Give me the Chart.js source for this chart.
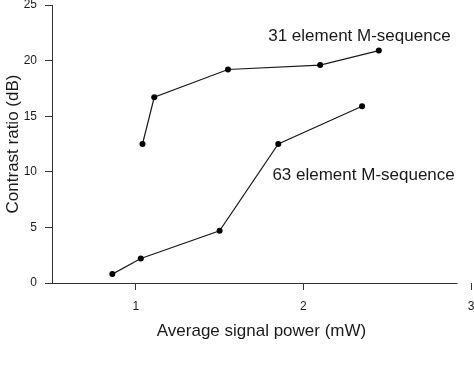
<!DOCTYPE html>
<html>
<head>
<meta charset="utf-8">
<script src="https://cdn.jsdelivr.net/npm/chart.js@4/dist/chart.umd.min.js"></script>
<style>
  html, body { margin: 0; padding: 0; background: #fff; }
  #wrap { width: 474px; height: 366px; position: relative; }
</style>
</head>
<body>
<div id="wrap"><canvas id="c" width="474" height="366"></canvas></div>
<script>
// ---- data ----
const series31Label = "31 element M-sequence";
const series31X = [1.04, 1.11, 1.55, 2.10, 2.45];
const series31Y = [12.5, 16.7, 19.2, 19.6, 20.9];

const series63Label = "63 element M-sequence";
const series63X = [0.86, 1.03, 1.50, 1.85, 2.35];
const series63Y = [0.8, 2.2, 4.7, 12.5, 15.9];

const xTicks = [1, 2, 3];
const yTicks = [0, 5, 10, 15, 20, 25];
const xTitle = "Average signal power (mW)";
const yTitle = "Contrast ratio (dB)";

// text labels placed in data units (left edge, vertical middle)
const labelAnchorsX = [1.79, 1.815];
const labelAnchorsY = [22.2, 9.7];
const xAxisEnd = 2.92;

const FONT = '"Liberation Sans", Arial, Helvetica, sans-serif';
const INK = '#1a1a1a';

function toPoints(xs, ys) { return xs.map((x, i) => ({ x: x, y: ys[i] })); }

const labelPlugin = {
  id: 'seriesLabels',
  afterDatasetsDraw(chart) {
    const ctx = chart.ctx;
    const xs = chart.scales.x, ys = chart.scales.y;
    const texts = [series31Label, series63Label];
    ctx.save();
    ctx.fillStyle = INK;
    ctx.font = '17px ' + FONT;
    ctx.textAlign = 'left';
    ctx.textBaseline = 'middle';
    texts.forEach((t, i) => {
      ctx.fillText(t, xs.getPixelForValue(labelAnchorsX[i]), ys.getPixelForValue(labelAnchorsY[i]));
    });
    ctx.restore();
  }
};

const axisLinePlugin = {
  id: 'xAxisLine',
  afterDraw(chart) {
    const ctx = chart.ctx;
    const xs = chart.scales.x;
    const y0 = chart.scales.y.getPixelForValue(0);
    ctx.save();
    ctx.strokeStyle = '#333';
    ctx.lineWidth = 1;
    ctx.beginPath();
    ctx.moveTo(chart.chartArea.left, Math.round(y0) + 0.5);
    ctx.lineTo(xs.getPixelForValue(xAxisEnd), Math.round(y0) + 0.5);
    ctx.stroke();
    ctx.restore();
  }
};

const commonDs = {
  borderColor: INK,
  backgroundColor: '#000',
  borderWidth: 1.2,
  pointRadius: 3,
  pointHoverRadius: 3,
  pointBackgroundColor: '#000',
  pointBorderColor: '#000',
  pointBorderWidth: 0,
  tension: 0,
  fill: false
};

new Chart(document.getElementById('c'), {
  type: 'line',
  data: {
    datasets: [
      Object.assign({ label: series31Label, data: toPoints(series31X, series31Y) }, commonDs),
      Object.assign({ label: series63Label, data: toPoints(series63X, series63Y) }, commonDs)
    ]
  },
  options: {
    responsive: false,
    devicePixelRatio: 1,
    animation: false,
    events: [],
    layout: { padding: { top: 5, right: 3, left: 0, bottom: 0 } },
    plugins: { legend: { display: false }, tooltip: { enabled: false } },
    scales: {
      x: {
        type: 'linear',
        min: 0.5,
        max: 3,
        border: { display: false },
        grid: { display: true, drawOnChartArea: false, drawTicks: true, tickLength: 7, color: '#333', lineWidth: 1 },
        ticks: { color: INK, font: { family: FONT, size: 12 }, padding: 9, maxRotation: 0 },
        afterBuildTicks(scale) { scale.ticks = xTicks.map(v => ({ value: v })); },
        afterFit(scale) { scale.height = 83; scale.paddingLeft = 0; scale.paddingRight = 0; },
        title: { display: true, text: xTitle, color: INK, font: { family: FONT, size: 17 }, padding: { top: 0, bottom: 24 } }
      },
      y: {
        type: 'linear',
        min: 0,
        max: 25,
        border: { display: true, color: '#333', width: 1 },
        grid: { display: true, drawOnChartArea: false, drawTicks: true, tickLength: 7, color: '#333', lineWidth: 1 },
        ticks: { color: INK, font: { family: FONT, size: 12 }, padding: 8 },
        afterBuildTicks(scale) { scale.ticks = yTicks.map(v => ({ value: v })); },
        afterFit(scale) { scale.width = 52; scale.paddingTop = 0; scale.paddingBottom = 0; },
        title: { display: true, text: yTitle, color: INK, font: { family: FONT, size: 17 }, padding: { top: 3, bottom: 0 } }
      }
    }
  },
  plugins: [labelPlugin, axisLinePlugin]
});
</script>
</body>
</html>
